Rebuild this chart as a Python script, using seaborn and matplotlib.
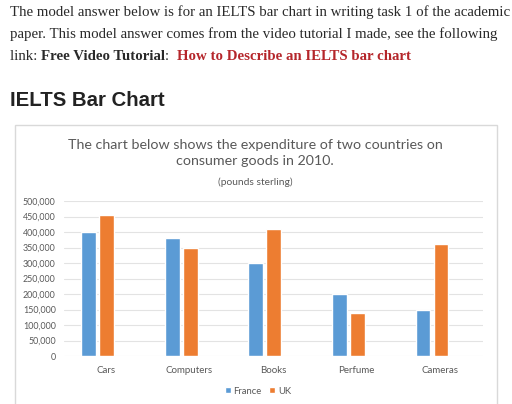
import numpy as np
import pandas as pd
import matplotlib
matplotlib.use("Agg")
import matplotlib.pyplot as plt
import seaborn as sns
from matplotlib.patches import Rectangle

# data (pounds sterling)
categories = ["Cars", "Computers", "Books", "Perfume", "Cameras"]
france = [400000, 380000, 300000, 200000, 150000]
uk = [455000, 350000, 410000, 140000, 360000]
countries = ["France", "UK"]
colors = ["#5B9BD5", "#ED7D31"]
yticks = np.arange(0, 500001, 50000)

df = pd.DataFrame({
    "category": categories * 2,
    "country": ["France"] * len(categories) + ["UK"] * len(categories),
    "value": france + uk,
})

sns.set_style("white")
W, H = 512, 404
fig = plt.figure(figsize=(W / 100, H / 100), dpi=100)
renderer = fig.canvas.get_renderer()


def fx(px):
    return px / W


def fy(py):
    return 1 - py / H


# page text above the chart
body = dict(family="Liberation Serif", color="#2A2A2A", va="center")
line1 = fig.text(fx(10), fy(12), "The model answer below is for an IELTS bar chart in writing task 1 of the academic",
                 fontsize=10, **body)
# fit the first line to the width seen in the screenshot
w = line1.get_window_extent(renderer).width
fs = 10 * 500 / w
line1.set_fontsize(fs)
fig.text(fx(10), fy(34), "paper. This model answer comes from the video tutorial I made, see the following",
         fontsize=fs, **body)

runs = [("link: ", "normal", "#2A2A2A"),
        ("Free Video Tutorial", "bold", "#2A2A2A"),
        (":  ", "normal", "#2A2A2A"),
        ("How to Describe an IELTS bar chart", "bold", "#B5262B")]
x = 10
for txt, wt, col in runs:
    t = fig.text(fx(x), fy(56), txt, fontsize=fs, fontweight=wt, family="Liberation Serif",
                 color=col, va="center")
    x += t.get_window_extent(renderer).width

fig.text(fx(10), fy(100), "IELTS Bar Chart", family="Liberation Sans", fontweight="bold",
         fontsize=14.7, color="#222222", va="center")

# frame of the chart picture
fig.patches.append(Rectangle((fx(15), fy(420)), fx(497 - 15), (420 - 125) / H,
                             transform=fig.transFigure, fill=False, edgecolor="#D9D9D9", lw=1))

cfont = "Lato"
fig.text(fx(255), fy(145), "The chart below shows the expenditure of two countries on",
         family=cfont, fontsize=10.3, color="#595959", ha="center", va="center")
fig.text(fx(255), fy(161), "consumer goods in 2010.",
         family=cfont, fontsize=10.3, color="#595959", ha="center", va="center")
fig.text(fx(255), fy(182), "(pounds sterling)",
         family=cfont, fontsize=7.4, color="#595959", ha="center", va="center")

ax = fig.add_axes([fx(64), fy(356), fx(483 - 64), (356 - 201) / H])
sns.barplot(data=df, x="category", y="value", hue="country", palette=colors,
            width=0.43, gap=0.17, ax=ax, saturation=1, legend=True)

ax.set_xlim(-0.40, 4.61)
ax.set_ylim(0, 500000)
ax.set_yticks(yticks)
ax.set_yticklabels([f"{v:,}" for v in yticks], family=cfont, fontsize=6.4, color="#595959")
ax.set_xticks(np.arange(len(categories)) + 0.1)
ax.set_xticklabels(categories, family=cfont, fontsize=7, color="#595959")
ax.tick_params(axis="y", length=0, pad=6)
ax.tick_params(axis="x", length=0, pad=7)
ax.set_xlabel("")
ax.set_ylabel("")
ax.yaxis.grid(True, color="#E3E3E3", lw=0.8)
ax.set_axisbelow(True)
for s in ax.spines.values():
    s.set_visible(False)

handles, labels = ax.get_legend_handles_labels()
ax.legend(handles, labels, loc="center", bbox_to_anchor=(fx(258), fy(391)),
          bbox_transform=fig.transFigure, ncol=2, frameon=False,
          handlelength=0.6, handleheight=0.6, handletextpad=0.3, columnspacing=0.8,
          prop={"family": cfont, "size": 6.8}, labelcolor="#595959")

fig.savefig("out.png", dpi=100)
